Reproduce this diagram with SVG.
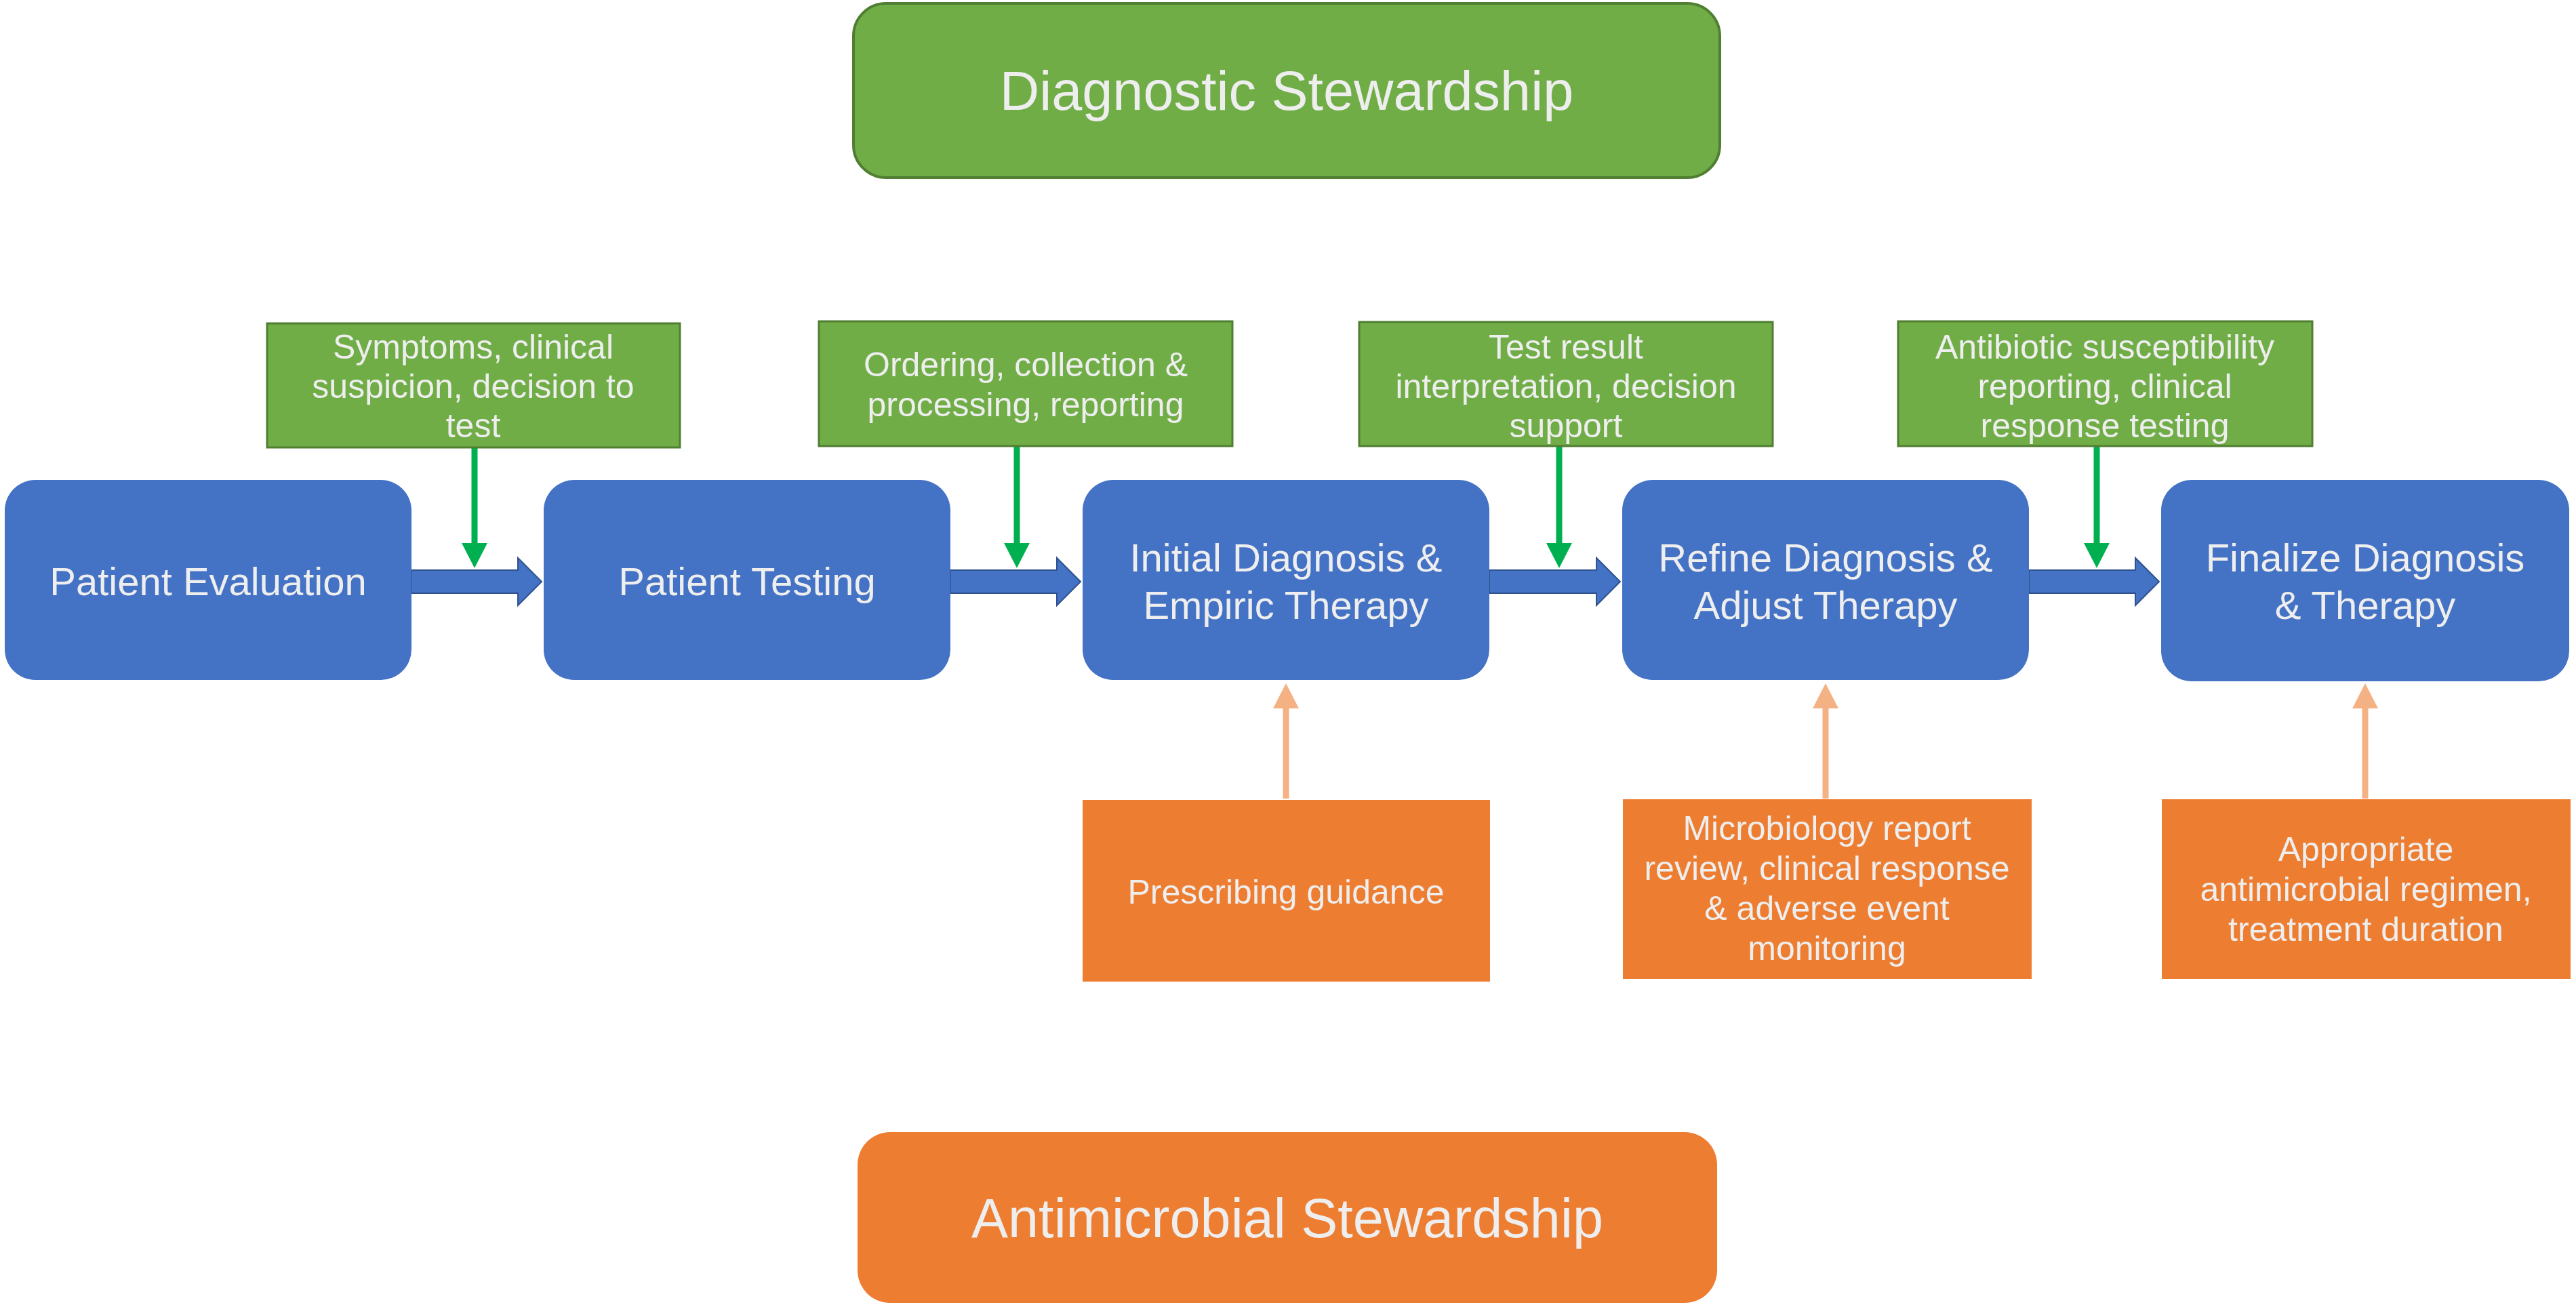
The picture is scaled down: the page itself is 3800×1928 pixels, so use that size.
<svg xmlns="http://www.w3.org/2000/svg" width="3800" height="1928" viewBox="0 0 3800 1928">
<style>
.t{font-family:"Liberation Sans",Arial,sans-serif;fill:#EEEEEE;text-anchor:middle}
.title{font-size:81px}
.node{font-size:58px}
.small{font-size:50px}
.blue{fill:#4472C4}
.green{fill:#70AD47;stroke:#507E32;stroke-width:3}
.orange{fill:#ED7D31}
.flow{fill:#4472C4;stroke:#2F528F;stroke-width:2}
.gl{stroke:#00B050;stroke-width:9;fill:none}
.ol{stroke:#F4B183;stroke-width:9;fill:none}
</style>
<defs>
<marker id="gh" viewBox="0 0 37 38" refX="0" refY="19" markerWidth="37" markerHeight="38" markerUnits="userSpaceOnUse" orient="auto"><path d="M0,0 L37,19 L0,38 z" fill="#00B050"/></marker>
<marker id="oh" viewBox="0 0 37 38" refX="0" refY="19" markerWidth="37" markerHeight="38" markerUnits="userSpaceOnUse" orient="auto"><path d="M0,0 L37,19 L0,38 z" fill="#F4B183"/></marker>
</defs>
<rect width="3800" height="1928" fill="#FFFFFF"/>

<g id="diagnostic-stewardship">
<rect x="1259" y="5" width="1278" height="257" rx="48" fill="#70AD47" stroke="#507E32" stroke-width="4"/>
<text class="t title" x="1898" y="162">Diagnostic Stewardship</text>
</g>
<g id="antimicrobial-stewardship">
<rect x="1265" y="1670" width="1268" height="252" rx="48" class="orange"/>
<text class="t title" x="1899" y="1825">Antimicrobial Stewardship</text>
</g>

<g id="connectors">
<polygon class="flow" points="607,841 764,841 764,823 799,858 764,893 764,875 607,875"/>
<polygon class="flow" points="1402,841 1559,841 1559,823 1594,858 1559,893 1559,875 1402,875"/>
<polygon class="flow" points="2197,841 2355,841 2355,823 2390,858 2355,893 2355,875 2197,875"/>
<polygon class="flow" points="2993,841 3150,841 3150,823 3185,858 3150,893 3150,875 2993,875"/>
<line class="gl" x1="700" y1="660" x2="700" y2="801" marker-end="url(#gh)"/>
<line class="gl" x1="1500" y1="658" x2="1500" y2="801" marker-end="url(#gh)"/>
<line class="gl" x1="2300" y1="658" x2="2300" y2="801" marker-end="url(#gh)"/>
<line class="gl" x1="3093" y1="658" x2="3093" y2="801" marker-end="url(#gh)"/>
<line class="ol" x1="1897" y1="1178" x2="1897" y2="1045" marker-end="url(#oh)"/>
<line class="ol" x1="2693" y1="1178" x2="2693" y2="1045" marker-end="url(#oh)"/>
<line class="ol" x1="3489" y1="1178" x2="3489" y2="1045" marker-end="url(#oh)"/>
</g>

<g id="patient-evaluation">
<rect x="7" y="708" width="600" height="295" rx="45" class="blue"/>
<text class="t node" x="307" y="878">Patient Evaluation</text>
</g>
<g id="patient-testing">
<rect x="802" y="708" width="600" height="295" rx="45" class="blue"/>
<text class="t node" x="1102" y="878">Patient Testing</text>
</g>
<g id="initial-diagnosis">
<rect x="1597" y="708" width="600" height="295" rx="45" class="blue"/>
<text class="t node" x="1897" y="843">Initial Diagnosis &amp;</text>
<text class="t node" x="1897" y="913">Empiric Therapy</text>
</g>
<g id="refine-diagnosis">
<rect x="2393" y="708" width="600" height="295" rx="45" class="blue"/>
<text class="t node" x="2693" y="843">Refine Diagnosis &amp;</text>
<text class="t node" x="2693" y="913">Adjust Therapy</text>
</g>
<g id="finalize-diagnosis">
<rect x="3188" y="708" width="602" height="297" rx="45" class="blue"/>
<text class="t node" x="3489" y="843">Finalize Diagnosis</text>
<text class="t node" x="3489" y="913">&amp; Therapy</text>
</g>

<g id="symptoms">
<rect x="394" y="477" width="609" height="183" class="green"/>
<text class="t small" x="698" y="529">Symptoms, clinical</text>
<text class="t small" x="698" y="587">suspicion, decision to</text>
<text class="t small" x="698" y="645">test</text>
</g>
<g id="ordering">
<rect x="1208" y="474" width="610" height="184" class="green"/>
<text class="t small" x="1513" y="555">Ordering, collection &amp;</text>
<text class="t small" x="1513" y="614">processing, reporting</text>
</g>
<g id="test-result">
<rect x="2005" y="475" width="610" height="183" class="green"/>
<text class="t small" x="2310" y="529">Test result</text>
<text class="t small" x="2310" y="587">interpretation, decision</text>
<text class="t small" x="2310" y="645">support</text>
</g>
<g id="antibiotic-susceptibility">
<rect x="2800" y="474" width="611" height="184" class="green"/>
<text class="t small" x="3105" y="529">Antibiotic susceptibility</text>
<text class="t small" x="3105" y="587">reporting, clinical</text>
<text class="t small" x="3105" y="645">response testing</text>
</g>

<g id="prescribing-guidance">
<rect x="1597" y="1180" width="601" height="268" class="orange"/>
<text class="t small" x="1897" y="1333">Prescribing guidance</text>
</g>
<g id="microbiology-report">
<rect x="2394" y="1179" width="603" height="265" class="orange"/>
<text class="t small" x="2695" y="1239">Microbiology report</text>
<text class="t small" x="2695" y="1298">review, clinical response</text>
<text class="t small" x="2695" y="1357">&amp; adverse event</text>
<text class="t small" x="2695" y="1416">monitoring</text>
</g>
<g id="appropriate-regimen">
<rect x="3189" y="1179" width="603" height="265" class="orange"/>
<text class="t small" x="3490" y="1270">Appropriate</text>
<text class="t small" x="3490" y="1329">antimicrobial regimen,</text>
<text class="t small" x="3490" y="1388">treatment duration</text>
</g>
</svg>
